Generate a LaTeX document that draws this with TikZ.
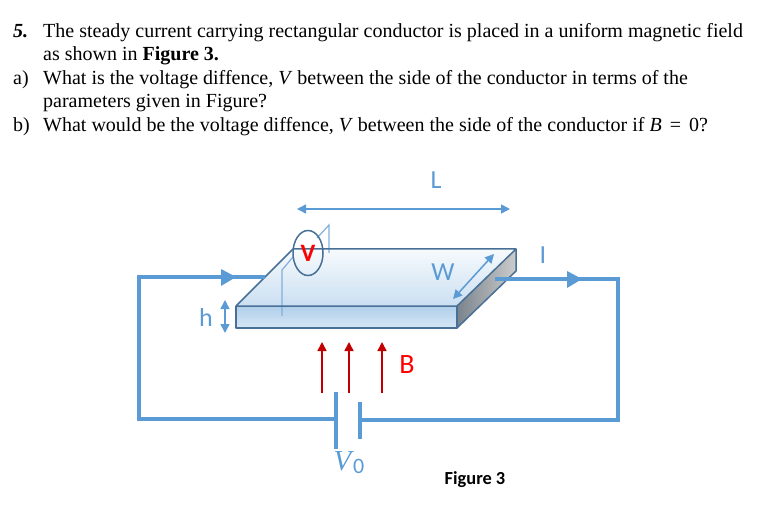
\documentclass[tikz,border=0pt]{standalone}
\usepackage{fontspec}
\setmainfont{Liberation Serif}
\newfontfamily\calib{Carlito}
\usetikzlibrary{arrows.meta,shapes.geometric}
\definecolor{wire}{RGB}{91,155,213}
\definecolor{edgeb}{RGB}{72,112,150}
\definecolor{thinb}{RGB}{130,175,220}
\definecolor{darkred}{RGB}{192,0,0}
\tikzset{
  wireline/.style={draw=wire,line width=3.1pt},
  thinline/.style={draw=thinb,line width=1.2pt},
  plateedge/.style={draw=edgeb,line width=1.5pt,line join=round},
  dimarrow/.style={draw=wire,line width=1.5pt,{Triangle[length=9pt,width=9pt]}-{Triangle[length=9pt,width=9pt]}},
  fieldarrow/.style={draw=darkred,line width=1.5pt,-{Triangle[length=9pt,width=9pt]}},
  currentmark/.style={fill=wire,draw=none},
  qtext/.style={anchor=base west,inner sep=0pt,font=\fontsize{20}{23}\selectfont},
  dimlabel/.style={text=wire,inner sep=0pt,font=\calib\fontsize{26}{28}\selectfont},
}
\begin{document}
\begin{tikzpicture}[x=1pt,y=-1pt]
\useasboundingbox (0,0) rectangle (767,518);
% text
\node[qtext] (n5) at (13,37.5) {\textbf{\textit{5.}}};
\node[qtext] (l1) at (43,37.5) {The steady current carrying rectangular conductor is placed in a uniform magnetic field};
\node[qtext] (l2) at (43,60.5) {as shown in \textbf{Figure 3.}};
\node[qtext] (na) at (13,84.5) {a)};
\node[qtext] (l3) at (43,84.5) {What is the voltage diffence, \textit{V} between the side of the conductor in terms of the};
\node[qtext] (l4) at (43,107.5) {parameters given in Figure?};
\node[qtext] (nb) at (13,131.5) {b)};
\node[qtext] (l5) at (43,131.5) {What would be the voltage diffence, \textit{V} between the side of the conductor if \textit{B}\kern3pt{} =\kern3pt{} 0?};
% plate corners
\coordinate (bl) at (293,249);
\coordinate (br) at (516,249);
\coordinate (fl) at (236,306);
\coordinate (fr) at (457,306);
\coordinate (flb) at (236,328);
\coordinate (frb) at (457,328);
\coordinate (brb) at (516,271);
% wire coordinates
\coordinate (wl) at (265,277);
\coordinate (wtl) at (139,277);
\coordinate (wbl) at (139,419);
\coordinate (wr) at (495,279);
\coordinate (wtr) at (618,279);
\coordinate (wbr) at (618,420);
\coordinate (pl) at (336,419);
\coordinate (pr) at (360,420);
\coordinate (plt) at (336,392);
\coordinate (plb) at (336,449);
\coordinate (prt) at (360,402);
\coordinate (prb) at (360,439);
% plate
\path[top color=white!95!wire,bottom color=wire!32] (bl) -- (br) -- (fr) -- (fl) -- cycle;
\path[top color=wire!48,bottom color=wire!25] (fl) -- (fr) -- (frb) -- (flb) -- cycle;
\path[left color=gray!85!wire,right color=gray!40] (fr) -- (br) -- (brb) -- (frb) -- cycle;
% thin voltmeter leads
\coordinate (vb1) at (282,316);
\coordinate (vb2) at (282,270);
\coordinate (vb3) at (293,257);
\coordinate (vt1) at (317,238);
\coordinate (vt2) at (329,225);
\coordinate (vt3) at (329,253);
\draw[thinline] (vb1) -- (vb2) -- (vb3);
\draw[thinline] (vt1) -- (vt2) -- (vt3);
% plate edges
\draw[plateedge] (fl) -- (bl) -- (br) -- (fr) -- cycle;
\draw[plateedge] (fl) -- (flb) -- (frb) -- (fr);
\draw[plateedge] (frb) -- (brb) -- (br);
% voltmeter
\node[ellipse,draw=edgeb,line width=1.5pt,minimum width=30pt,minimum height=45pt,inner sep=0pt,
      text=red,font=\calib\bfseries\fontsize{25}{25}\selectfont] (vm) at (308,253) {V};
% circuit
\draw[wireline,line join=miter] (wl) -- (wtl) -- (wbl) -- (pl);
\draw[wireline,line join=miter] (wr) -- (wtr) -- (wbr) -- (pr);
\draw[wireline] (plt) -- (plb);
\draw[wireline] (prt) -- (prb);
\path[currentmark] (221,269) -- (236,277) -- (221,286) -- cycle;
\path[currentmark] (567,271) -- (582,279) -- (567,288) -- cycle;
% dimension arrows
\coordinate (la) at (297,209);
\coordinate (lb) at (510,209);
\draw[dimarrow] (la) -- (lb);
\coordinate (wa) at (453,299);
\coordinate (wb) at (494,254);
\draw[dimarrow] (wa) -- (wb);
\coordinate (ha) at (225,300);
\coordinate (hb) at (225,333);
\draw[dimarrow] (ha) -- (hb);
% field arrows
\coordinate (b1a) at (322,393);
\coordinate (b1b) at (322,342);
\coordinate (b2a) at (349,393);
\coordinate (b2b) at (349,342);
\coordinate (b3a) at (382,393);
\coordinate (b3b) at (382,342);
\draw[fieldarrow] (b1a) -- (b1b);
\draw[fieldarrow] (b2a) -- (b2b);
\draw[fieldarrow] (b3a) -- (b3b);
% labels
\node[dimlabel] (labL) at (436,180) {L};
\node[dimlabel] (labI) at (543,255) {I};
\node[dimlabel] (labW) at (443,272) {W};
\node[dimlabel] (labh) at (206,317) {h};
\node[inner sep=0pt,text=red,font=\calib\fontsize{28}{28}\selectfont] (labB) at (407,365) {B};
\node[inner sep=0pt,text=wire,font=\fontsize{29}{29}\selectfont] (labV) at (349,463) {\textit{V}\kern-1pt{\calib\fontsize{22}{22}\selectfont\raisebox{-3pt}{0}}};
\node[inner sep=0pt,font=\calib\bfseries\fontsize{18.4}{20}\selectfont] (fig) at (475,480) {Figure 3};
\end{tikzpicture}
\end{document}
